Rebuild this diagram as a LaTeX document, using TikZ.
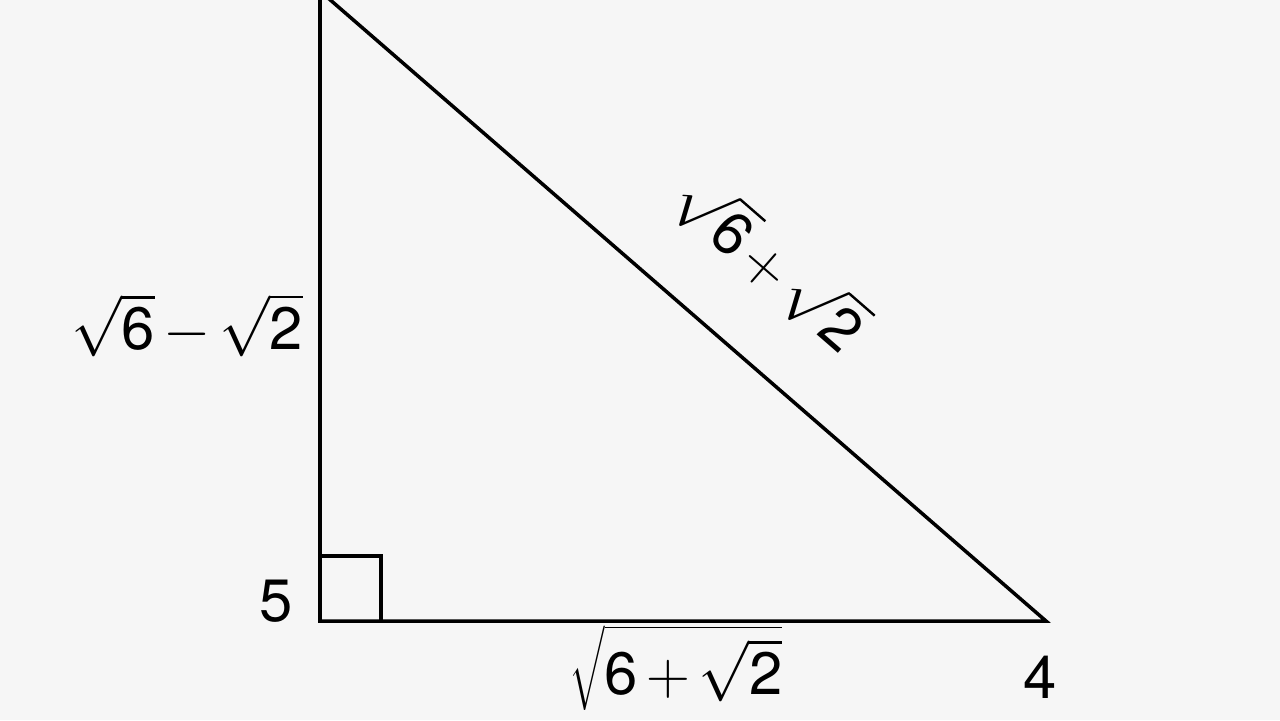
\documentclass[tikz,border=0pt]{standalone}
\usepackage{fontspec}
\setmainfont{TeX Gyre Heros}
\definecolor{bgcol}{HTML}{F6F6F6}
\newcommand{\rt}[1]{\sqrt{\textrm{#1}}}
\medmuskip=2.5mu plus 1mu minus 1mu
\begin{document}
\begin{tikzpicture}[x=0.01cm,y=-0.01cm,line width=1pt,
	lbl/.style={font=\fontsize{17}{20}\selectfont, inner sep=0pt}]
	\fill[bgcol] (0,0) rectangle (1280,720);
	\useasboundingbox (0,0) rectangle (1280,720);
	\coordinate (A) at (320,-9);
	\coordinate (B) at (320,621);
	\coordinate (C) at (1046,621);
	\begin{scope}
		\clip (0,0) rectangle (1280,720);
		\draw (A) -- (B) -- (C) -- cycle;
	\end{scope}
	\draw (320,556) -| (381,621);
	\node[lbl] (left) at (187,325) {$\rt{6}-\rt{2}$};
	\node[lbl] (five) at (276,601) {5};
	\node[lbl] (bottom) at (676,668) {$\sqrt{\textrm{6}+\rt{2}}$};
	\node[lbl] (four) at (1040,677) {4};
	\node[lbl, rotate=-41] (hyp) at (770,262) {$\rt{6}+\rt{2}$};
\end{tikzpicture}
\end{document}
